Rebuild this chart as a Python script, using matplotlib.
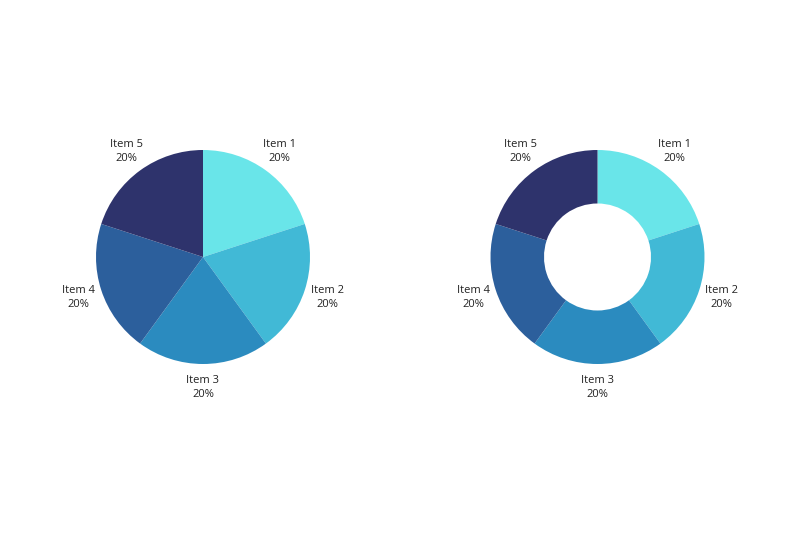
import matplotlib
matplotlib.use("Agg")
import matplotlib.pyplot as plt

labels = ["Item 1", "Item 2", "Item 3", "Item 4", "Item 5"]
shares = [20, 20, 20, 20, 20]
colors = ["#69e5e9", "#41b9d6", "#2b8bbf", "#2c5f9c", "#2e336c"]

plt.rcParams["font.family"] = ["Open Sans", "DejaVu Sans"]

fig = plt.figure(figsize=(8, 5.33), dpi=100)
fig.patch.set_facecolor("white")

# square axes, data limits [-1.5, 1.5] -> radius 1 = 107 px
size_w = 321 / 800
size_h = 321 / 533
bottom = (533 - 257 - 160.5) / 533
positions = [(203 - 160.5) / 800, (597.5 - 160.5) / 800]
hole_widths = [None, 0.5]

for left, width in zip(positions, hole_widths):
    ax = fig.add_axes([left, bottom, size_w, size_h])
    wedgeprops = {"linewidth": 0}
    if width is not None:
        wedgeprops["width"] = width
    texts = ax.pie(
        shares,
        labels=[f"{lab}\n{s}%" for lab, s in zip(labels, shares)],
        colors=colors,
        startangle=90,
        counterclock=False,
        radius=1.0,
        labeldistance=1.22,
        wedgeprops=wedgeprops,
        textprops={"fontsize": 8, "color": "#222222", "ha": "center", "va": "center",
                   "linespacing": 1.4},
    )[1]
    for t in texts:
        t.set_horizontalalignment("center")
    ax.set_xlim(-1.5, 1.5)
    ax.set_ylim(-1.5, 1.5)
    ax.set_aspect("equal")
    ax.axis("off")

fig.savefig("out.png", dpi=100)
